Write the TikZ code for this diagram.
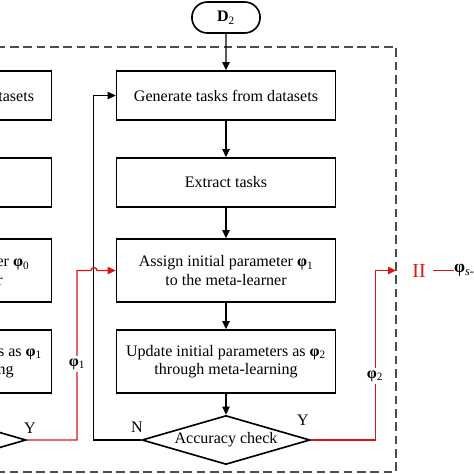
\documentclass[tikz,border=0pt]{standalone}
\usepackage{fontspec}
\setmainfont{Liberation Serif}
\usetikzlibrary{shapes.geometric,shapes.misc,arrows.meta}
\definecolor{LineRed}{rgb}{.86,.08,.08}
\definecolor{FrameGray}{rgb}{.3,.3,.3}

\begin{document}
\begin{tikzpicture}[
  font=\fontsize{13.7pt}{15.4pt}\selectfont,
  >={Triangle[length=2.4mm,width=2.2mm]},
  stepbox/.style = {draw,line width=1.4pt,minimum width=6.57cm,minimum height=#1,align=center,inner sep=0pt},
  stepbox/.default = 1.47cm,
  check/.style = {draw,diamond,shape aspect=3.43,line width=1.4pt,minimum width=5.04cm,minimum height=1.47cm,inner sep=0pt},
  terminal/.style = {draw,rounded rectangle,line width=1.4pt,minimum width=2.28cm,minimum height=0.93cm},
  flow/.style = {->,line width=1.1pt},
  passed/.style = {flow,draw=LineRed},
  param/.style = {fill=white,inner sep=2pt}
  ]
  \useasboundingbox (0,0) rectangle (14.22,-14.22);
  \clip (0,0) rectangle (14.22,-14.22);
  % frame of the second stage
  \draw[FrameGray,line width=1pt,dash pattern=on 7.4pt off 4pt]
    (-0.5,-1.41) -- (11.88,-1.41) -- (11.88,-14.16) -- (-0.5,-14.16);
  %
  \foreach \i/\x in {1/-1.74,2/6.78} {
    \pgfmathtruncatemacro{\h}{\i-1}
    \node[stepbox]        (G\i) at (\x,-2.865) {Generate tasks from datasets};
    \node[stepbox]        (E\i) at (\x,-5.475) {Extract tasks};
    \node[stepbox=1.89cm] (A\i) at (\x,-8.115)
      {Assign initial parameter \textbf{φ}\textsubscript{\h}\\to the meta-learner};
    \node[stepbox=1.89cm] (U\i) at (\x,-10.845)
      {Update initial parameters as \textbf{φ}\textsubscript{\i}\\through meta-learning};
    \node[check]          (C\i) at (\x,-13.2) {Accuracy check};
    \draw[flow] (G\i) -- (E\i);
    \draw[flow] (E\i) -- (A\i);
    \draw[flow] (A\i) -- (U\i);
    \draw[flow] (U\i) -- (C\i);
  }
  \node[terminal] (D2) at (6.78,-0.525) {\textbf{D}\textsubscript{2}};
  \draw[flow] (D2) -- (G2);
  % N: back to task generation
  \draw[flow] (C2.west) -- ++(-1.44,0) |- (G2.west);
  \node (N2) at (4.11,-12.81) {N};
  % Y: parameters go on
  \draw[passed] (C1.east) -| (2.31,-8.115) -- (2.73,-8.115)
    arc[start angle=180,end angle=0,radius=0.09] -- (A2.west);
  \node (Y1) at (0.9,-12.84) {Y};
  \node[param] (P1) at (2.31,-10.92) {\textbf{φ}\textsubscript{1}};
  \coordinate (out) at (11.88,-8.115);
  \draw[passed] (C2.east) -- ++(1.95,0) |- (out);
  \node (Y2) at (9.09,-12.6) {Y};
  \node[param] (P2) at (11.25,-11.28) {\textbf{φ}\textsubscript{2}};
  \node[text=LineRed,font=\fontsize{17pt}{19pt}\selectfont,inner sep=2pt] (brk) at (12.57,-8.115) {II};
  \node[anchor=west,inner sep=0pt,font=\fontsize{15pt}{17pt}\selectfont] (Ps) at (13.62,-8.115) {\textbf{φ}\textsubscript{\textit{s}-1}};
  \draw[LineRed,line width=1.1pt] (12.99,-8.115) -- (Ps);
\end{tikzpicture}
\end{document}
